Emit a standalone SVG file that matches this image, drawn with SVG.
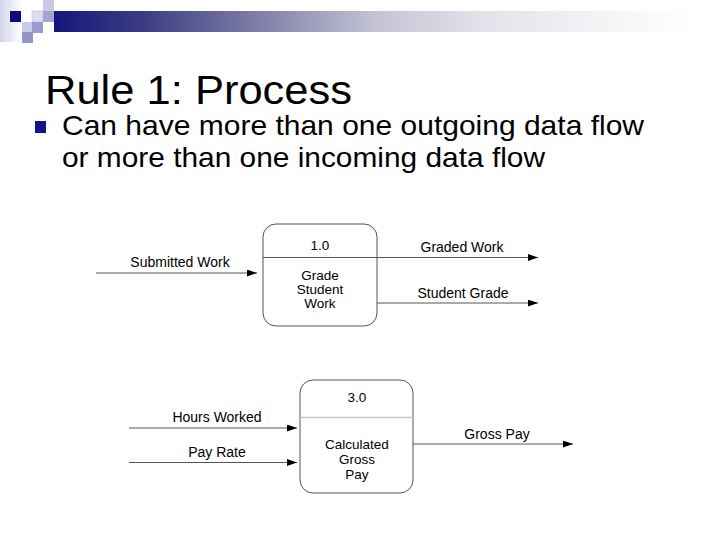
<svg xmlns="http://www.w3.org/2000/svg" width="720" height="540" viewBox="0 0 720 540">
<defs>
<linearGradient id="bar" gradientUnits="userSpaceOnUse" x1="54" y1="0" x2="720" y2="0">
<stop offset="0" stop-color="#16167e"/>
<stop offset="0.13" stop-color="#3a3a84"/>
<stop offset="0.28" stop-color="#7474a2"/>
<stop offset="0.48" stop-color="#c2c2d4"/>
<stop offset="0.63" stop-color="#e0e0e8"/>
<stop offset="0.82" stop-color="#f4f4f7"/>
<stop offset="0.96" stop-color="#ffffff"/>
</linearGradient>
<linearGradient id="fade" x1="0" y1="0" x2="1" y2="0">
<stop offset="0" stop-color="#d4d4ec"/>
<stop offset="1" stop-color="#ffffff"/>
</linearGradient>
<marker id="arr" markerWidth="10" markerHeight="7" refX="10" refY="3.5" orient="auto" markerUnits="userSpaceOnUse">
<path d="M0,0 L10,3.5 L0,7 Z" fill="#000"/>
</marker>
</defs>
<style>
.t{font-family:"Liberation Sans",Arial,sans-serif;fill:#000}
.lbl{font-size:14px;text-anchor:middle}
.in{font-size:13.5px;text-anchor:middle}
.flow{stroke:#555;stroke-width:1;fill:none;marker-end:url(#arr)}
.box{fill:#fff;stroke:#555;stroke-width:1}
</style>
<g id="decoration">
<rect x="0" y="0" width="22" height="42" fill="url(#fade)"/>
<rect x="10" y="11" width="11" height="11" fill="#0c0c7a"/>
<rect x="22" y="0" width="11" height="11" fill="#ffffff"/>
<rect x="43" y="0" width="11" height="11" fill="#c8c8e2"/>
<rect x="32" y="11" width="11" height="11" fill="#dcdcee" stroke="#b8b8d8" stroke-width="0.5"/>
<rect x="43" y="11" width="11" height="11" fill="#a4a4d2"/>
<rect x="54" y="11" width="666" height="21" fill="url(#bar)"/>
<rect x="22" y="22" width="11" height="11" fill="#cacae8"/>
<rect x="32" y="22" width="11" height="11" fill="#9a9acc"/>
<rect x="22" y="32" width="11" height="11" fill="#9494c8"/>
</g>
<g id="title">
<text class="t" x="45" y="104" font-size="40" textLength="307" lengthAdjust="spacingAndGlyphs">Rule 1: Process</text>
</g>
<g id="bullet">
<rect x="35" y="121" width="11" height="12" fill="#14148a"/>
<text class="t" x="62" y="135" font-size="28" textLength="582" lengthAdjust="spacingAndGlyphs">Can have more than one outgoing data flow</text>
<text class="t" x="62" y="167" font-size="28" textLength="483" lengthAdjust="spacingAndGlyphs">or more than one incoming data flow</text>
</g>
<g id="connectors">
<line class="flow" x1="96" y1="273" x2="257" y2="273"/>
<line class="flow" x1="377" y1="257.5" x2="538" y2="257.5"/>
<line class="flow" x1="377" y1="303" x2="538" y2="303"/>
<line class="flow" x1="129" y1="428" x2="297" y2="428"/>
<line class="flow" x1="129" y1="462.5" x2="297" y2="462.5"/>
<line class="flow" x1="413" y1="444" x2="573" y2="444"/>
<text class="t lbl" x="180" y="267">Submitted Work</text>
<text class="t lbl" x="462" y="252">Graded Work</text>
<text class="t lbl" x="463" y="298">Student Grade</text>
<text class="t lbl" x="217" y="422">Hours Worked</text>
<text class="t lbl" x="217" y="456.5">Pay Rate</text>
<text class="t lbl" x="497" y="439">Gross Pay</text>
</g>
<g id="process-1">
<rect class="box" x="263" y="224" width="114" height="102" rx="13" ry="13"/>
<line x1="263" y1="257.5" x2="377" y2="257.5" stroke="#555" stroke-width="1"/>
<text class="t in" x="320" y="250">1.0</text>
<text class="t in" x="320" y="279.5">Grade</text>
<text class="t in" x="320" y="294">Student</text>
<text class="t in" x="320" y="308">Work</text>
</g>
<g id="process-3">
<rect class="box" x="300" y="380" width="113" height="113" rx="13" ry="13"/>
<line x1="300" y1="417.5" x2="413" y2="417.5" stroke="#c8c8c8" stroke-width="1.5"/>
<text class="t in" x="357" y="402">3.0</text>
<text class="t in" x="357" y="449">Calculated</text>
<text class="t in" x="357" y="464">Gross</text>
<text class="t in" x="357" y="478.5">Pay</text>
</g>
</svg>
